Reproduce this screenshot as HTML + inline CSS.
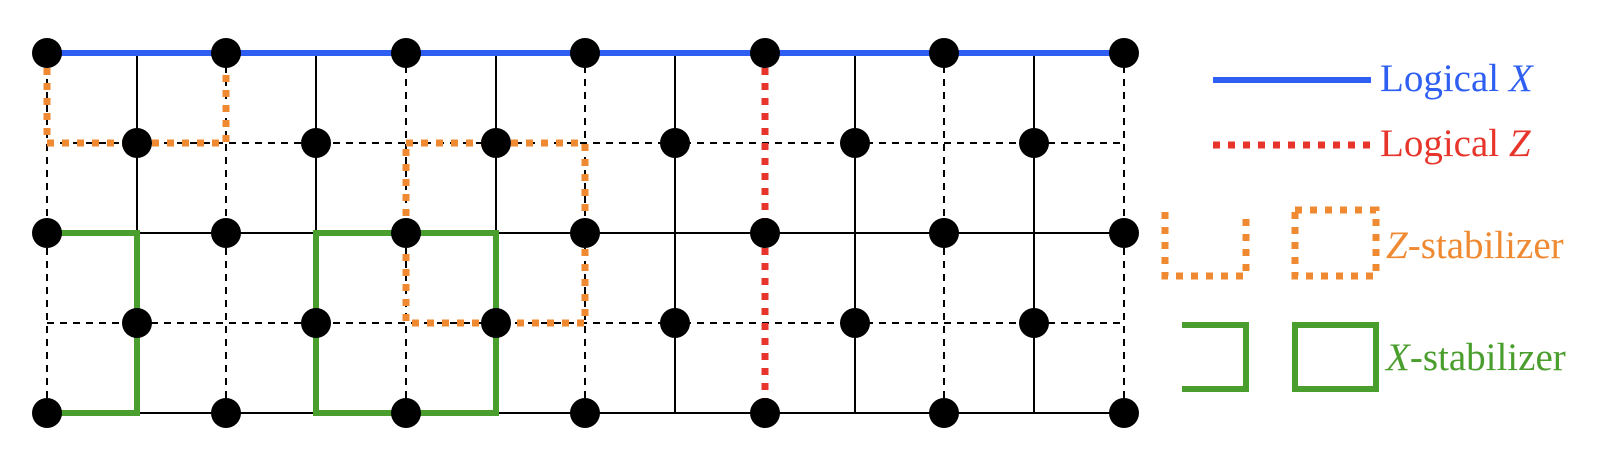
<!DOCTYPE html>
<html><head><style>body{margin:0;background:#fff}svg{display:block}</style></head><body>
<svg width="1602" height="454" xmlns="http://www.w3.org/2000/svg">
<g stroke="#000" stroke-width="2" fill="none">
<line x1="47" y1="233" x2="1124" y2="233"/>
<line x1="47" y1="413" x2="1124" y2="413"/>
<g>
<line x1="137" y1="53" x2="137" y2="413"/><line x1="316" y1="53" x2="316" y2="413"/>
<line x1="496" y1="53" x2="496" y2="413"/><line x1="675" y1="53" x2="675" y2="413"/>
<line x1="855" y1="53" x2="855" y2="413"/><line x1="1034" y1="53" x2="1034" y2="413"/>
</g>
<g stroke-dasharray="7 6">
<line x1="47" y1="143" x2="1124" y2="143"/><line x1="47" y1="323" x2="1124" y2="323"/>
<line x1="47" y1="53" x2="47" y2="413"/><line x1="226" y1="53" x2="226" y2="413"/>
<line x1="406" y1="53" x2="406" y2="413"/><line x1="585" y1="53" x2="585" y2="413"/>
<line x1="944" y1="53" x2="944" y2="413"/><line x1="1124" y1="53" x2="1124" y2="413"/>
</g>
</g>
<line x1="47" y1="53" x2="1124" y2="53" stroke="#2f5ff2" stroke-width="6"/>
<line x1="765" y1="53" x2="765" y2="413" stroke="#e8352c" stroke-width="7" stroke-dasharray="7 8"/>
<g stroke="#ef8a32" stroke-width="7" fill="none" stroke-dasharray="7 8">
<polyline points="47,53 47,143 226,143 226,53"/>
<rect x="406" y="143" width="179" height="180"/>
</g>
<g stroke="#4a9e2e" stroke-width="6" fill="none">
<polyline points="47,233 137,233 137,413 47,413"/>
<rect x="316" y="233" width="180" height="180"/>
</g>
<g fill="#000">
<circle cx="47" cy="53" r="15"/><circle cx="226" cy="53" r="15"/><circle cx="406" cy="53" r="15"/><circle cx="585" cy="53" r="15"/><circle cx="765" cy="53" r="15"/><circle cx="944" cy="53" r="15"/><circle cx="1124" cy="53" r="15"/>
<circle cx="47" cy="233" r="15"/><circle cx="226" cy="233" r="15"/><circle cx="406" cy="233" r="15"/><circle cx="585" cy="233" r="15"/><circle cx="765" cy="233" r="15"/><circle cx="944" cy="233" r="15"/><circle cx="1124" cy="233" r="15"/>
<circle cx="47" cy="413" r="15"/><circle cx="226" cy="413" r="15"/><circle cx="406" cy="413" r="15"/><circle cx="585" cy="413" r="15"/><circle cx="765" cy="413" r="15"/><circle cx="944" cy="413" r="15"/><circle cx="1124" cy="413" r="15"/>
<circle cx="137" cy="143" r="15"/><circle cx="316" cy="143" r="15"/><circle cx="496" cy="143" r="15"/><circle cx="675" cy="143" r="15"/><circle cx="855" cy="143" r="15"/><circle cx="1034" cy="143" r="15"/>
<circle cx="137" cy="323" r="15"/><circle cx="316" cy="323" r="15"/><circle cx="496" cy="323" r="15"/><circle cx="675" cy="323" r="15"/><circle cx="855" cy="323" r="15"/><circle cx="1034" cy="323" r="15"/>
</g>
<line x1="1213" y1="80" x2="1371" y2="80" stroke="#2f5ff2" stroke-width="6"/>
<line x1="1213" y1="145" x2="1371" y2="145" stroke="#e8352c" stroke-width="7" stroke-dasharray="7 8"/>
<g stroke="#ef8a32" stroke-width="7" fill="none" stroke-dasharray="7 8">
<polyline points="1165,212 1165,276 1246,276 1246,212"/>
<rect x="1295" y="210" width="81" height="66"/>
</g>
<g stroke="#4a9e2e" stroke-width="6" fill="none">
<polyline points="1182,325 1246,325 1246,389 1182,389"/>
<rect x="1295" y="325" width="81" height="64"/>
</g>
<g font-family="Liberation Serif, serif" font-size="39">
<text x="1380" y="91" fill="#2f5ff2">Logical <tspan font-style="italic">X</tspan></text>
<text x="1380" y="156" fill="#e8352c">Logical <tspan font-style="italic">Z</tspan></text>
<text x="1386" y="258" fill="#ef8a32"><tspan font-style="italic">Z</tspan>-stabilizer</text>
<text x="1386" y="370" fill="#4a9e2e"><tspan font-style="italic">X</tspan>-stabilizer</text>
</g>
</svg>
</body></html>
